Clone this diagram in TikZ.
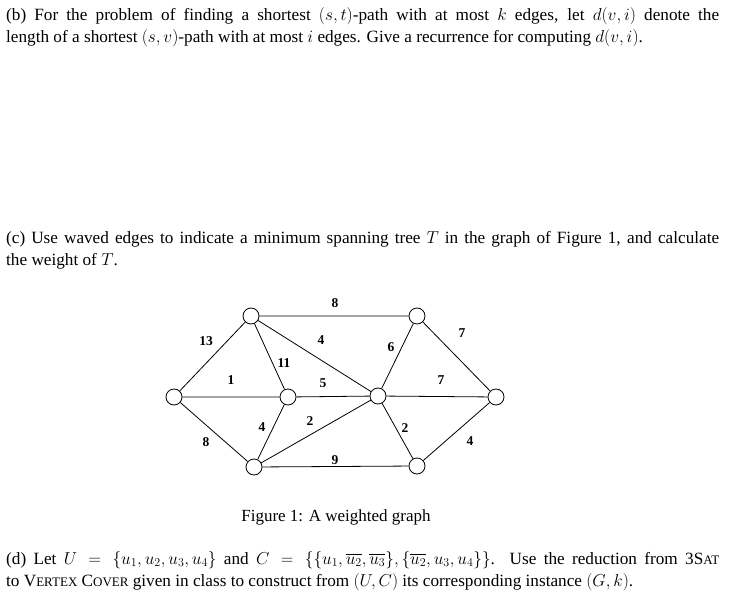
\documentclass[tikz,border=0pt]{standalone}
\usepackage{fontspec}
\setmainfont{Liberation Serif}
\usepackage{amsmath,amssymb}
\newcommand{\fsc}[1]{{\fontsize{13}{14}\selectfont #1}}
\begin{document}
\begin{tikzpicture}[x=1pt,y=-1pt,
  vtx/.style={circle,draw,line width=0.8pt,fill=white,minimum size=16pt,inner sep=0pt},
  wt/.style={font=\fontsize{13.5}{15}\selectfont\bfseries},
  txt/.style={anchor=north west,inner sep=0pt,text width=713pt,align=justify,font=\fontsize{17.2}{22.5}\selectfont}]
\useasboundingbox (0,0) rectangle (732,613);
\node[txt] (b) at (6,7) {(b) For the problem of finding a shortest $(s,t)$-path with at most $k$ edges, let $d(v,i)$ denote the\linebreak length of a shortest $(s,v)$-path with at most $i$ edges. Give a recurrence for computing $d(v,i)$.};
\node[txt] (c) at (6,231) {(c) Use waved edges to indicate a minimum spanning tree $T$ in the graph of Figure 1, and calculate\linebreak the weight of $T$.};
\node[txt] (d) at (6,551) {(d) Let $U=\{u_1,u_2,u_3,u_4\}$ and $C=\{\{u_1,\overline{u_2},\overline{u_3}\},\{\overline{u_2},u_3,u_4\}\}$. Use the reduction from 3S\fsc{AT}\linebreak to V\fsc{ERTEX} C\fsc{OVER} given in class to construct from $(U,C)$ its corresponding instance $(G,k)$.};
\node[font=\fontsize{17}{18}\selectfont] (cap) at (336,517) {Figure 1: A weighted graph};
\node[vtx] (L) at (174,397) {};
\node[vtx] (TL) at (251,316) {};
\node[vtx] (M) at (288,397) {};
\node[vtx] (BL) at (254,467) {};
\node[vtx] (C) at (378,396) {};
\node[vtx] (TR) at (417,316) {};
\node[vtx] (R) at (496,397) {};
\node[vtx] (BR) at (417,466) {};
\draw[line width=0.8pt] (TL)--(TR) (L)--(TL) (TL)--(M) (TL)--(C) (L)--(M) (M)--(C) (C)--(R) (TR)--(C) (TR)--(R)
  (L)--(BL) (BL)--(M) (BL)--(C) (BL)--(BR) (C)--(BR) (BR)--(R);
\node[wt] (w1) at (335,303) {8};
\node[wt] (w2) at (206,341) {13};
\node[wt] (w3) at (321,340) {4};
\node[wt] (w4) at (284,363) {11};
\node[wt] (w5) at (391,347) {6};
\node[wt] (w6) at (462,333) {7};
\node[wt] (w7) at (231,380) {1};
\node[wt] (w8) at (323,383) {5};
\node[wt] (w9) at (441,380) {7};
\node[wt] (w10) at (262,427) {4};
\node[wt] (w11) at (310,421) {2};
\node[wt] (w12) at (405,428) {2};
\node[wt] (w13) at (470,441) {4};
\node[wt] (w14) at (206,442) {8};
\node[wt] (w15) at (335,460) {9};
\end{tikzpicture}
\end{document}
